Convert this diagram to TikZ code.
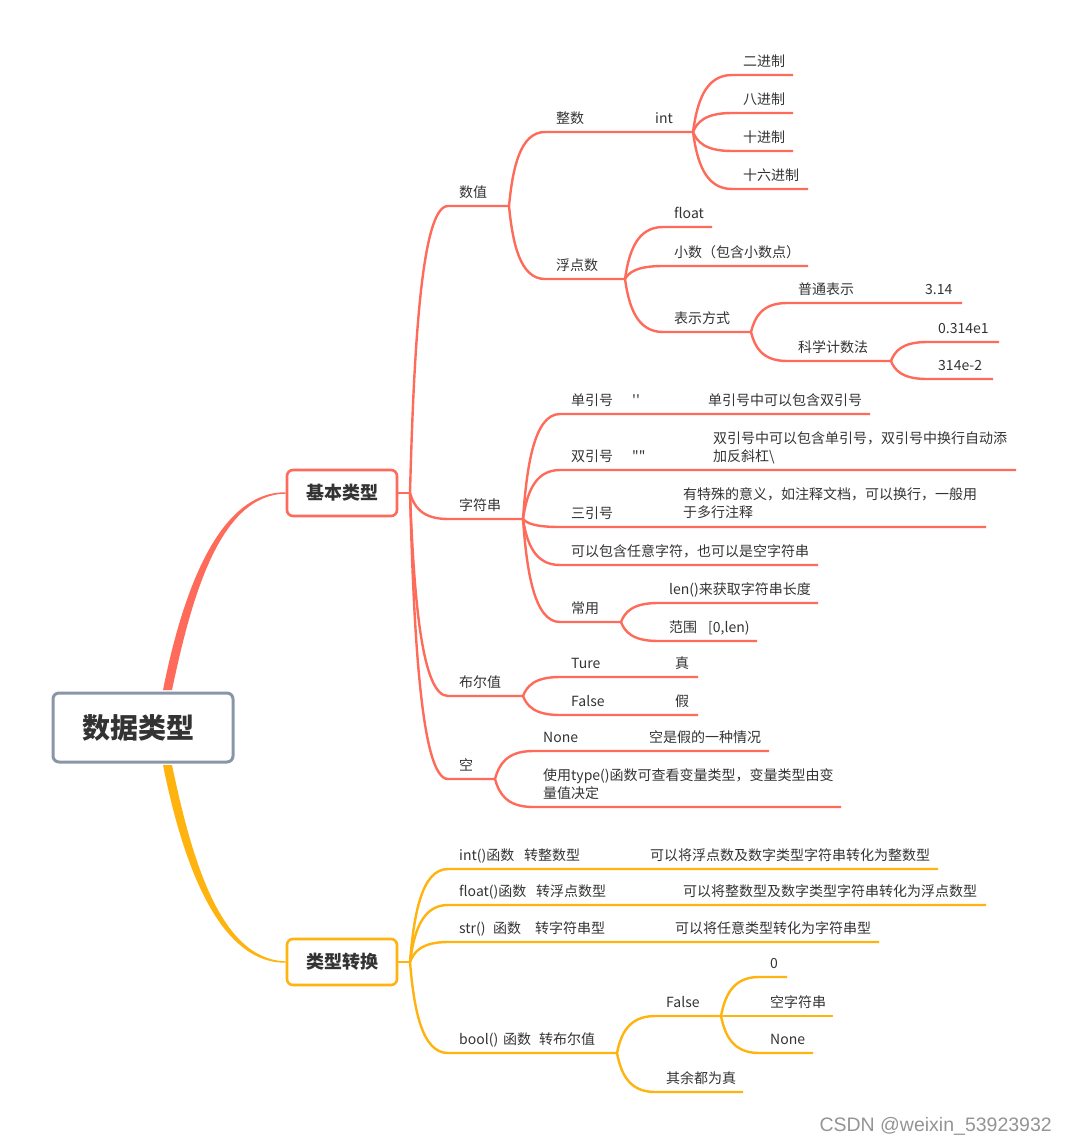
\documentclass[tikz,border=0pt]{standalone}
\usepackage{fontspec}
\setmainfont{Noto Sans CJK SC}
\newfontfamily\quotefont{Noto Sans CJK SC}[Ligatures=TeXOff]
\newfontfamily\markfont{Liberation Sans}
\usetikzlibrary{calc}

\definecolor{coral}{HTML}{FF6B5B}
\definecolor{amber}{HTML}{FFB30F}
\definecolor{slate}{HTML}{8896A8}
\definecolor{ink}{HTML}{333333}

\tikzset{
  lbl/.style={anchor=base west, inner sep=0pt, text=ink, font=\fontsize{14}{18}\selectfont},
  rootbox/.style={draw=slate, line width=3pt, rounded corners=6pt, fill=white,
    minimum width=180pt, minimum height=69pt, text=ink, font=\fontsize{28}{32}\selectfont\bfseries},
  topicbox/.style={line width=2.6pt, rounded corners=6pt, fill=white,
    minimum width=110pt, minimum height=46pt, text=ink, font=\fontsize{18}{22}\selectfont\bfseries},
  rline/.style={draw=coral, line width=2.4pt},
  yline/.style={draw=amber, line width=2.4pt},
  branch/.style={to path={let \p1=(\tikztostart), \p2=(\tikztotarget) in
    .. controls ({\x1+0.1*(\x2-\x1)},{\y1+0.5*(\y2-\y1)}) and ({\x1+0.3*(\x2-\x1)},\y2) .. (\tikztotarget)}},
}

\begin{document}
\begin{tikzpicture}[x=1pt, y=-1pt]
    \useasboundingbox (0,0) rectangle (1066,1143);

    % central topic and the two main topics
    \node[rootbox] (root) at (143,727.5) {\hspace*{-9pt}数据类型};
    \node[topicbox, draw=coral] (jiben) at (342,493) {基本类型};
    \node[topicbox, draw=amber] (zhuan) at (342,962) {类型转换};

    % tapered links from the central topic
    \fill[coral] ($(root.north)+(20,-1.5)$) .. controls (181,600) and (216,491.6) .. ($(jiben.west)+(0,-0.7)$)
        -- ($(jiben.west)+(0,0.7)$) .. controls (219,494.5) and (191,600) .. ($(root.north)+(29,-1.5)$) -- cycle;
    \fill[amber] ($(root.south)+(20,1.5)$) .. controls (181,855) and (216,963.4) .. ($(zhuan.west)+(0,0.7)$)
        -- ($(zhuan.west)+(0,-0.7)$) .. controls (219,959.5) and (191,855) .. ($(root.south)+(29,1.5)$) -- cycle;

    % ---------- 基本类型 ----------
    \coordinate (jb) at (410,493);
    \draw[rline] (jiben.east) -- (jb);
    \coordinate (shuzhi-s) at (448,206);   \coordinate (shuzhi) at (509,206);
    \coordinate (zfc-s) at (448,519);      \coordinate (zfc) at (523,519);
    \coordinate (buer-s) at (448,696);     \coordinate (buer) at (523,696);
    \coordinate (kong-s) at (448,779);     \coordinate (kong) at (495,779);
    \foreach \k/\t in {shuzhi/数值, zfc/字符串, buer/布尔值, kong/空} {
        \draw[rline] (jb) to[branch] (\k-s) -- (\k);
        \node[lbl] (\k-t) at ($(\k-s)+(11,-9)$) {\t};
    }

    % 数值
    \coordinate (zhengshu-s) at (545,132); \coordinate (zhengshu) at (693,132);
    \coordinate (fudian-s) at (545,279);   \coordinate (fudian) at (625,279);
    \foreach \k/\t in {zhengshu/整数, fudian/浮点数} {
        \draw[rline] (shuzhi) to[branch] (\k-s) -- (\k);
        \node[lbl] (\k-t) at ($(\k-s)+(11,-9)$) {\t};
    }
    \node[lbl] (int-t) at (655,123) {int};

    % int
    \coordinate (jz1-s) at (732,75);  \coordinate (jz1) at (793,75);
    \coordinate (jz2-s) at (732,113); \coordinate (jz2) at (793,113);
    \coordinate (jz3-s) at (732,151); \coordinate (jz3) at (793,151);
    \coordinate (jz4-s) at (732,189); \coordinate (jz4) at (808,189);
    \foreach \k/\t in {jz1/二进制, jz2/八进制, jz3/十进制, jz4/十六进制} {
        \draw[rline] (zhengshu) to[branch] (\k-s) -- (\k);
        \node[lbl] (\k-t) at ($(\k-s)+(11,-9)$) {\t};
    }

    % 浮点数
    \coordinate (flt-s) at (663,227);     \coordinate (flt) at (712,227);
    \coordinate (xiaoshu-s) at (663,266); \coordinate (xiaoshu) at (808,266);
    \coordinate (biaoshi-s) at (663,332); \coordinate (biaoshi) at (751,332);
    \foreach \k/\t in {flt/float, xiaoshu/小数（包含小数点）, biaoshi/表示方式} {
        \draw[rline] (fudian) to[branch] (\k-s) -- (\k);
        \node[lbl] (\k-t) at ($(\k-s)+(11,-9)$) {\t};
    }

    % 表示方式
    \coordinate (putong-s) at (787,303); \coordinate (putong) at (962,303);
    \coordinate (kexue-s) at (787,361);  \coordinate (kexue) at (891,361);
    \foreach \k/\t in {putong/普通表示, kexue/科学计数法} {
        \draw[rline] (biaoshi) to[branch] (\k-s) -- (\k);
        \node[lbl] (\k-t) at ($(\k-s)+(11,-9)$) {\t};
    }
    \node[lbl] (pi-t) at (925,294) {3.14};

    % 科学计数法
    \coordinate (ke1-s) at (927,342); \coordinate (ke1) at (999,342);
    \coordinate (ke2-s) at (927,379); \coordinate (ke2) at (993,379);
    \foreach \k/\t in {ke1/0.314e1, ke2/314e-2} {
        \draw[rline] (kexue) to[branch] (\k-s) -- (\k);
        \node[lbl] (\k-t) at ($(\k-s)+(11,-9)$) {\t};
    }

    % 字符串
    \coordinate (dan-s) at (560,414);       \coordinate (dan) at (870,414);
    \coordinate (shuang-s) at (560,470);    \coordinate (shuang) at (1016,470);
    \coordinate (san-s) at (560,527);       \coordinate (san) at (986,527);
    \coordinate (renyi-s) at (560,565);     \coordinate (renyi) at (818,565);
    \coordinate (changyong-s) at (560,622); \coordinate (changyong) at (621,622);
    \foreach \k/\t in {dan/单引号, shuang/双引号, san/三引号, renyi/{可以包含任意字符，也可以是空字符串}, changyong/常用} {
        \draw[rline] (zfc) to[branch] (\k-s) -- (\k);
        \node[lbl] (\k-t) at ($(\k-s)+(11,-9)$) {\t};
    }
    \node[lbl] (dan-q) at (632,405) {\quotefont ''};
    \node[lbl] (dan-d) at (708,405) {单引号中可以包含双引号};
    \node[lbl] (shuang-q) at (632,461) {\quotefont ""};
    \node[lbl] (shuang-d1) at (713,443) {双引号中可以包含单引号，双引号中换行自动添};
    \node[lbl] (shuang-d2) at (713,461) {加反斜杠\textbackslash};
    \node[lbl] (san-d1) at (683,499) {有特殊的意义，如注释文档，可以换行，一般用};
    \node[lbl] (san-d2) at (683,517) {于多行注释};

    % 常用
    \coordinate (len-s) at (658,603);    \coordinate (len) at (818,603);
    \coordinate (fanwei-s) at (658,641); \coordinate (fanwei) at (757,641);
    \foreach \k/\t in {len/len()来获取字符串长度, fanwei/范围} {
        \draw[rline] (changyong) to[branch] (\k-s) -- (\k);
        \node[lbl] (\k-t) at ($(\k-s)+(11,-9)$) {\t};
    }
    \node[lbl] (fanwei-d) at (708,632) {[0,len)};

    % 布尔值
    \coordinate (ture-s) at (560,677);  \coordinate (ture) at (698,677);
    \coordinate (jia-s) at (560,715);   \coordinate (jia) at (698,715);
    \foreach \k/\t in {ture/Ture, jia/False} {
        \draw[rline] (buer) to[branch] (\k-s) -- (\k);
        \node[lbl] (\k-t) at ($(\k-s)+(11,-9)$) {\t};
    }
    \node[lbl] (ture-d) at (675,668) {真};
    \node[lbl] (jia-d) at (675,706) {假};

    % 空
    \coordinate (none-s) at (533,751); \coordinate (none) at (769,751);
    \coordinate (type-s) at (533,807); \coordinate (type) at (841,807);
    \draw[rline] (kong) to[branch] (none-s) -- (none);
    \draw[rline] (kong) to[branch] (type-s) -- (type);
    \node[lbl] (none-t) at (543,742) {None};
    \node[lbl] (none-d) at (649,742) {空是假的一种情况};
    \node[lbl] (type-t1) at (543,780) {使用type()函数可查看变量类型，变量类型由变};
    \node[lbl] (type-t2) at (543,798) {量值决定};

    % ---------- 类型转换 ----------
    \coordinate (jz) at (410,962);
    \draw[yline] (zhuan.east) -- (jz);
    \coordinate (intf-s) at (448,869);   \coordinate (intf) at (938,869);
    \coordinate (floatf-s) at (448,905); \coordinate (floatf) at (986,905);
    \coordinate (strf-s) at (448,942);   \coordinate (strf) at (879,942);
    \coordinate (boolf-s) at (448,1053); \coordinate (boolf) at (617,1053);
    \foreach \k/\t in {intf/int()函数, floatf/float()函数, strf/str(), boolf/bool()} {
        \draw[yline] (jz) to[branch] (\k-s) -- (\k);
        \node[lbl] (\k-t) at ($(\k-s)+(11,-9)$) {\t};
    }
    \node[lbl] (intf-a) at (524,860) {转整数型};
    \node[lbl] (intf-d) at (650,860) {可以将浮点数及数字类型字符串转化为整数型};
    \node[lbl] (floatf-a) at (536,896) {转浮点数型};
    \node[lbl] (floatf-d) at (683,896) {可以将整数型及数字类型字符串转化为浮点数型};
    \node[lbl] (strf-h) at (493,933) {函数};
    \node[lbl] (strf-a) at (535,933) {转字符串型};
    \node[lbl] (strf-d) at (675,933) {可以将任意类型转化为字符串型};
    \node[lbl] (boolf-h) at (503,1044) {函数};
    \node[lbl] (boolf-a) at (539,1044) {转布尔值};

    % bool()
    \coordinate (bf-s) at (655,1016);   \coordinate (bf) at (721,1016);
    \coordinate (qiyu-s) at (655,1092); \coordinate (qiyu) at (743,1092);
    \foreach \k/\t in {bf/False, qiyu/其余都为真} {
        \draw[yline] (boolf) to[branch] (\k-s) -- (\k);
        \node[lbl] (\k-t) at ($(\k-s)+(11,-9)$) {\t};
    }

    % False
    \coordinate (b0-s) at (759,977);     \coordinate (b0) at (787,977);
    \coordinate (bkong-s) at (759,1016); \coordinate (bkong) at (833,1016);
    \coordinate (bnone-s) at (759,1053); \coordinate (bnone) at (813,1053);
    \foreach \k/\t in {b0/0, bkong/空字符串, bnone/None} {
        \draw[yline] (bf) to[branch] (\k-s) -- (\k);
        \node[lbl] (\k-t) at ($(\k-s)+(11,-9)$) {\t};
    }

    % watermark
    \node[anchor=base east, inner sep=0pt, text=black!42, font=\markfont\fontsize{19.5}{22}\selectfont] (mark) at (1052,1131) {CSDN @weixin\_53923932};
\end{tikzpicture}
\end{document}
